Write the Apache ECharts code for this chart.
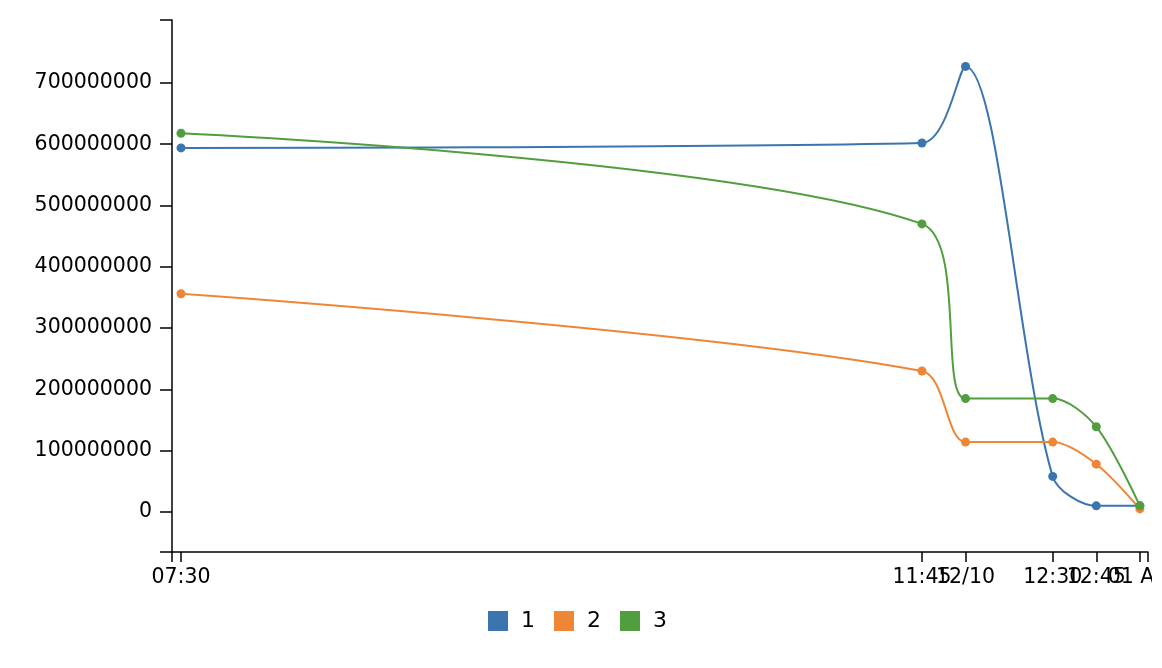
<!DOCTYPE html>
<html>
<head>
<meta charset="utf-8">
<script src="https://cdn.jsdelivr.net/npm/echarts@6/dist/echarts.min.js"></script>
<style>
html,body{margin:0;padding:0;background:#fff;}
#chart{width:1152px;height:668px;}
</style>
</head>
<body>
<div id="chart"></div>
<script>
// minutes since 07:30
var times = [0, 255, 270, 300, 315, 330];
var tickLabels = ["07:30", "11:45", "12/10", "12:30", "12:45", "01 AM"];
var seriesNames = ["1", "2", "3"];
var s1 = [594e6, 602e6, 727e6, 58e6, 10e6, 10e6];
var s2 = [356e6, 230e6, 114e6, 114e6, 78e6, 5e6];
var s3 = [618e6, 470e6, 185e6, 185e6, 139e6, 10e6];
var yTicks = [0, 1e8, 2e8, 3e8, 4e8, 5e8, 6e8, 7e8];
var colors = ["#3b75af", "#ef8636", "#519e3e"];

var xMin = -3.1, xMax = 332.8;
var yMin = -65.3e6, yMax = 802.7e6;

function pairs(vals){ return times.map(function(t,i){ return [t, vals[i]]; }); }

var font = "DejaVu Sans";
var chart = echarts.init(document.getElementById('chart'), null, {renderer:'canvas'});
var mk = function(name, vals, c){
  return {
    name: name, type: 'line', data: pairs(vals),
    smooth: 0.3,
    symbol: 'circle', symbolSize: 9,
    lineStyle: {color: c, width: 2},
    itemStyle: {color: c},
    emphasis: {disabled: true}
  };
};
var labelFmt = function(v){ var i = times.indexOf(v); return i >= 0 ? tickLabels[i] : ''; };
// split label sets so the library's overlap handling keeps all of them
var labelsA = [times[0], times[1], times[3], times[5]];
var labelsB = [times[2], times[4]];
var labelStyle = {fontFamily: font, fontSize: 20.5, color: '#000'};
chart.setOption({
  animation: false,
  color: colors,
  grid: {left: 172, right: 4, top: 20, bottom: 116, containLabel: false, outerBoundsMode: 'none'},
  legend: {
    left: 488, top: 610, padding: 0, icon: 'rect', itemWidth: 20, itemHeight: 20, itemGap: 19,
    textStyle: {fontFamily: font, fontSize: 22, color: '#000', padding: [0,0,0,8]},
    data: seriesNames.map(function(n){ return {name: n}; })
  },
  xAxis: [{
    type: 'value', min: xMin, max: xMax,
    splitLine: {show: false},
    axisLine: {show: true, onZero: false, lineStyle: {color: '#000', width: 1.5}},
    axisTick: {show: true, length: 10, lineStyle: {color: '#000', width: 1.5},
      customValues: [xMin].concat(times).concat([xMax])},
    axisLabel: Object.assign({customValues: labelsA, margin: 15, showMaxLabel: true, showMinLabel: true,
      formatter: labelFmt}, labelStyle)
  }, {
    type: 'value', min: xMin, max: xMax, position: 'bottom', offset: 0,
    splitLine: {show: false},
    axisLine: {show: false, onZero: false},
    axisTick: {show: false},
    axisLabel: Object.assign({customValues: labelsB, margin: 15, showMaxLabel: true, showMinLabel: true,
      formatter: labelFmt}, labelStyle)
  }],
  yAxis: {
    type: 'value', min: yMin, max: yMax,
    splitLine: {show: false},
    axisLine: {show: true, onZero: false, lineStyle: {color: '#000', width: 1.5}},
    axisTick: {show: true, length: 12, lineStyle: {color: '#000', width: 1.5},
      customValues: [yMin].concat(yTicks).concat([yMax])},
    axisLabel: Object.assign({customValues: yTicks, margin: 20,
      formatter: function(v){ return String(Math.round(v)); }}, labelStyle)
  },
  series: [mk(seriesNames[0], s1, colors[0]), mk(seriesNames[1], s2, colors[1]), mk(seriesNames[2], s3, colors[2])]
});
</script>
</body>
</html>
